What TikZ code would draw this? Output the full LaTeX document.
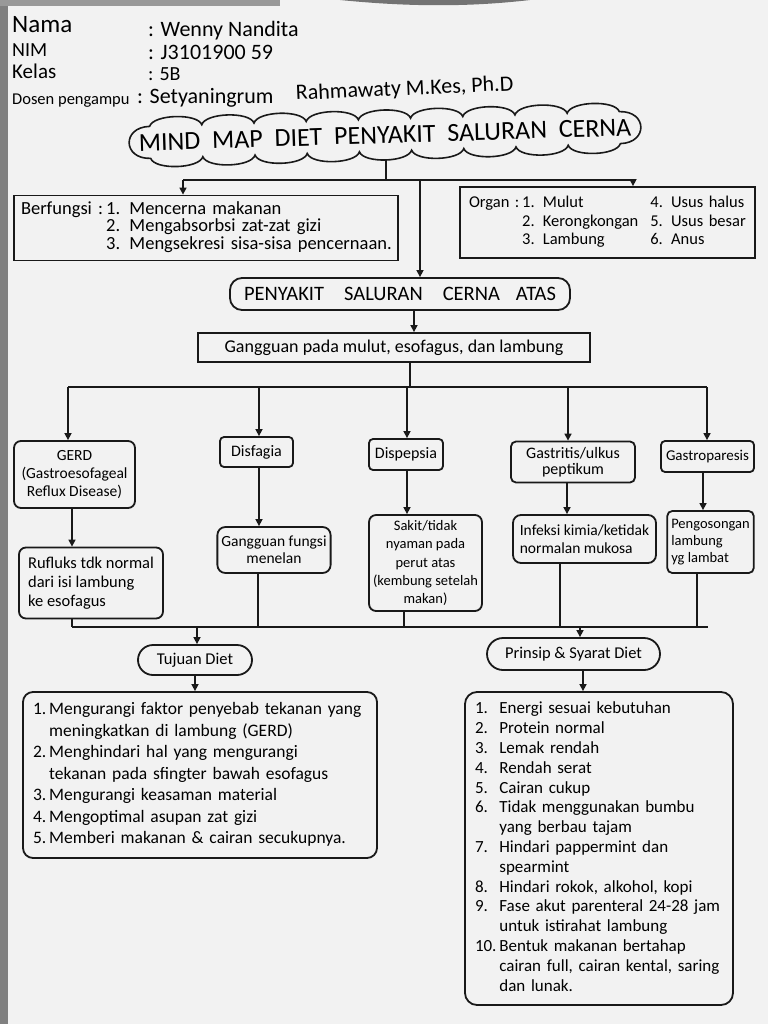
\documentclass[tikz,border=0pt]{standalone}
\usepackage{fontspec}
\setmainfont{Carlito}
\usetikzlibrary{arrows.meta,shapes.misc}
\begin{document}
\begin{tikzpicture}[x=1pt,y=-1pt,
  ink/.style={line width=1.5pt,draw=black!90},
  arr/.style={ink,-{Triangle[length=7pt,width=7pt]}},
  box/.style={draw=black!90,line width=1.8pt,inner sep=4pt,align=center},
  rbox/.style={box,rounded corners=7pt},
  pill/.style={box,rounded rectangle},
  hdr/.style={inner sep=0pt,font=\fontsize{22}{24}\selectfont}]
\fill[black!5] (0,0) rectangle (768,1024);
\useasboundingbox (0,0) rectangle (768,1024);
\fill[black!50] (0,0) rectangle (8,1024);
\fill[black!40] (0,0) rectangle (280,6);
\fill[black!55] (340,0) .. controls (410,7) and (470,7) .. (530,0) -- cycle;

% header
\node[hdr,anchor=base west,font=\fontsize{25}{27}\selectfont] (l1) at (12,33) {Nama};
\node[hdr,anchor=base west] (v1) at (148,37) {: Wenny Nandita};
\node[hdr,anchor=base west,font=\fontsize{20}{22}\selectfont] (l2) at (12,57) {NIM};
\node[hdr,anchor=base west] (v2) at (148,60) {: J3101900 59};
\node[hdr,anchor=base west,font=\fontsize{21}{23}\selectfont] (l3) at (12,79) {Kelas};
\node[hdr,anchor=base west,font=\fontsize{20}{22}\selectfont] (v3) at (148,81) {: 5B};
\node[hdr,anchor=base west,font=\fontsize{16.5}{19}\selectfont] (l4) at (12,105) {Dosen pengampu};
\node[hdr,anchor=base west] (v4) at (137,104) {: Setyaningrum};
\node[hdr,anchor=base west,rotate=2.5] (v5) at (296,100) {Rahmawaty M.Kes, Ph.D};

% title cloud
\node[rectangle,minimum width=520,minimum height=50,inner sep=0pt,rotate=1.8,font=\fontsize{26}{28}\selectfont]
  (title) at (385,135) {MIND\ \ MAP\ \ DIET\ \ PENYAKIT\ \ SALURAN\ \ CERNA};
\begin{scope}[shift={(385,135)},rotate=1.8]
\draw[ink,line width=1.6pt] (-235,-16)
  \foreach \i in {1,...,9}{ .. controls +(4,-12) and +(-4,-12) .. ++(52.22,0) }
  .. controls +(28,0) and +(28,0) .. (235,16)
  \foreach \i in {1,...,9}{ .. controls +(-4,12) and +(4,12) .. ++(-52.22,0) }
  .. controls +(-28,0) and +(-28,0) .. (-235,-16) -- cycle;
\end{scope}

% first level
\node[box,text width=370,inner xsep=7pt,minimum height=65,align=left,font=\fontsize{18.5}{16.5}\selectfont]
  (fungsi) at (206,228) {\begin{tabular}{@{}l@{\,}l@{}}Berfungsi : & 1. Mencerna makanan\\ & 2. Mengabsorbsi zat-zat gizi\\ & 3. Mengsekresi sisa-sisa pencernaan.\end{tabular}};
\node[box,text width=277,inner xsep=9pt,minimum height=71,align=left,font=\fontsize{16.5}{18.5}\selectfont]
  (organ) at (607.5,222.5) {\begin{tabular}{@{}l@{\,}l@{\hspace{12pt}}l@{}}Organ : & 1. Mulut & 4. Usus halus\\ & 2. Kerongkongan & 5. Usus besar\\ & 3. Lambung & 6. Anus\end{tabular}};

\node[rbox,rounded corners=12pt,minimum width=340,minimum height=32,font=\fontsize{20.5}{22}\selectfont]
  (penyakit) at (400,294) {PENYAKIT\hspace{20pt}SALURAN\hspace{20pt}CERNA\hspace{16pt}ATAS};
\node[box,minimum width=392,minimum height=29,font=\fontsize{18}{20}\selectfont]
  (gangguan) at (394,347.5) {Gangguan pada mulut, esofagus, dan lambung};

% diseases
\node[rbox,minimum width=121,minimum height=67,font=\fontsize{15.5}{18}\selectfont]
  (gerd) at (74.5,474.5) {GERD\\(Gastroesofageal\\Reflux Disease)};
\node[rbox,rounded corners=4pt,minimum width=73,minimum height=30,font=\fontsize{16}{17}\selectfont]
  (disfagia) at (256.5,452) {Disfagia};
\node[rbox,rounded corners=4pt,minimum width=74,minimum height=31,font=\fontsize{16}{17}\selectfont]
  (dispepsia) at (406,454.5) {Dispepsia};
\node[rbox,rounded corners=5pt,minimum width=124,minimum height=41,font=\fontsize{16}{16}\selectfont]
  (gastritis) at (573,462) {Gastritis/ulkus\\peptikum};
\node[rbox,rounded corners=4pt,minimum width=93,minimum height=31,inner xsep=2pt,font=\fontsize{15}{16}\selectfont]
  (gastroparesis) at (707.5,456.5) {Gastroparesis};

% explanations
\node[rbox,minimum width=144,minimum height=71,align=left,font=\fontsize{16.5}{19}\selectfont]
  (refluks) at (91,583) {Rufluks tdk normal\\dari isi lambung\\ke esofagus};
\node[rbox,rounded corners=8pt,minimum width=112,minimum height=46,font=\fontsize{15.5}{17}\selectfont]
  (menelan) at (274,550) {Gangguan fungsi\\menelan};
\node[rbox,minimum width=105,minimum height=96,font=\fontsize{14.5}{18.2}\selectfont]
  (sakit) at (425.5,563) {Sakit/tidak\\nyaman pada\\perut atas\\(kembung setelah\\makan)};
\node[rbox,rounded corners=8pt,minimum width=143,minimum height=48,align=left,font=\fontsize{15.5}{18}\selectfont]
  (infeksi) at (584.5,539) {Infeksi kimia/ketidak\\normalan mukosa};
\node[rbox,rounded corners=5pt,minimum width=85,minimum height=62,align=left,font=\fontsize{14.5}{17}\selectfont]
  (pengosongan) at (710.5,542) {Pengosongan\\lambung\\yg lambat};

% diet
\node[pill,minimum width=122,minimum height=30,font=\fontsize{16.5}{18}\selectfont]
  (tujuan) at (195,660) {Tujuan Diet};
\node[pill,minimum width=181,minimum height=32,font=\fontsize{16.5}{18}\selectfont]
  (prinsip) at (573.5,654) {Prinsip \& Syarat Diet};

\node[rbox,rounded corners=10pt,text width=334,inner xsep=10pt,minimum height=166,align=left,font=\fontsize{17.5}{21.5}\selectfont]
  (tujuanlist) at (200,775) {\begin{tabular}{@{}l@{\,}l@{}}
  1. & Mengurangi faktor penyebab tekanan yang\\
     & meningkatkan di lambung (GERD)\\
  2. & Menghindari hal yang mengurangi\\
     & tekanan pada sfingter bawah esofagus\\
  3. & Mengurangi keasaman material\\
  4. & Mengoptimal asupan zat gizi\\
  5. & Memberi makanan \& cairan secukupnya.\end{tabular}};
\node[rbox,rounded corners=12pt,text width=248,inner xsep=10pt,minimum height=313,align=left,font=\fontsize{17}{19.8}\selectfont]
  (prinsiplist) at (599,848.5) {\begin{tabular}{@{}l@{\,}l@{}}
  1. & Energi sesuai kebutuhan\\
  2. & Protein normal\\
  3. & Lemak rendah\\
  4. & Rendah serat\\
  5. & Cairan cukup\\
  6. & Tidak menggunakan bumbu\\
     & yang berbau tajam\\
  7. & Hindari pappermint dan\\
     & spearmint\\
  8. & Hindari rokok, alkohol, kopi\\
  9. & Fase akut parenteral 24-28 jam\\
     & untuk istirahat lambung\\
  10. & Bentuk makanan bertahap\\
     & cairan full, cairan kental, saring\\
     & dan lunak.\end{tabular}};

% connectors level 1
\coordinate (h1L) at (183,180);
\coordinate (h1R) at (633,180);
\coordinate (h1M) at (420,180);
\draw[ink] (title.south) -- (title.south |- h1L);
\draw[ink] (h1L) -- (h1R);
\draw[arr] (h1L) -- (h1L |- fungsi.north);
\draw[arr] (h1R) -- (h1R |- organ.north);
\draw[arr] (h1M) -- (h1M |- penyakit.north);

% level 2
\coordinate (xm) at (414,0);
\coordinate (h2M) at (410,387);
\coordinate (h2a) at (68,387);
\coordinate (h2b) at (259,387);
\coordinate (h2c) at (407,387);
\coordinate (h2d) at (568,387);
\coordinate (h2e) at (707,387);
\draw[arr] (penyakit.south -| xm) -- (gangguan.north -| xm);
\draw[ink] (gangguan.south -| h2M) -- (h2M);
\draw[ink] (h2a) -- (h2e);
\draw[arr] (h2a) -- (h2a |- gerd.north);
\draw[arr] (h2b) -- (h2b |- disfagia.north);
\draw[arr] (h2c) -- (h2c |- dispepsia.north);
\draw[arr] (h2d) -- (h2d |- gastritis.north);
\draw[arr] (h2e) -- (h2e |- gastroparesis.north);

% level 3
\coordinate (xa) at (72,0);
\coordinate (xb) at (259,0);
\coordinate (xc) at (407,0);
\coordinate (xd) at (567,0);
\coordinate (xe) at (703,0);
\draw[arr] (gerd.south -| xa) -- (refluks.north -| xa);
\draw[arr] (disfagia.south -| xb) -- (menelan.north -| xb);
\draw[arr] (dispepsia.south -| xc) -- (sakit.north -| xc);
\draw[arr] (gastritis.south -| xd) -- (infeksi.north -| xd);
\draw[arr] (gastroparesis.south -| xe) -- (pengosongan.north -| xe);

% merge
\coordinate (h3a) at (72,627);
\coordinate (h3b) at (258,627);
\coordinate (h3c) at (404,627);
\coordinate (h3d) at (560,627);
\coordinate (h3e) at (697,627);
\coordinate (h3end) at (708,627);
\coordinate (h3t) at (197,627);
\coordinate (h3p) at (580,627);
\draw[ink] (refluks.south -| h3a) -- (h3a);
\draw[ink] (menelan.south -| h3b) -- (h3b);
\draw[ink] (sakit.south -| h3c) -- (h3c);
\draw[ink] (infeksi.south -| h3d) -- (h3d);
\draw[ink] (pengosongan.south -| h3e) -- (h3e);
\draw[ink] (h3a) -- (h3end);
\draw[arr] (h3t) -- (h3t |- tujuan.north);
\draw[arr] (h3p) -- (h3p |- prinsip.north);

\coordinate (xp) at (583,0);
\draw[arr] (tujuan.south) -- (tujuan.south |- tujuanlist.north);
\draw[arr] (prinsip.south -| xp) -- (prinsiplist.north -| xp);
\end{tikzpicture}
\end{document}
